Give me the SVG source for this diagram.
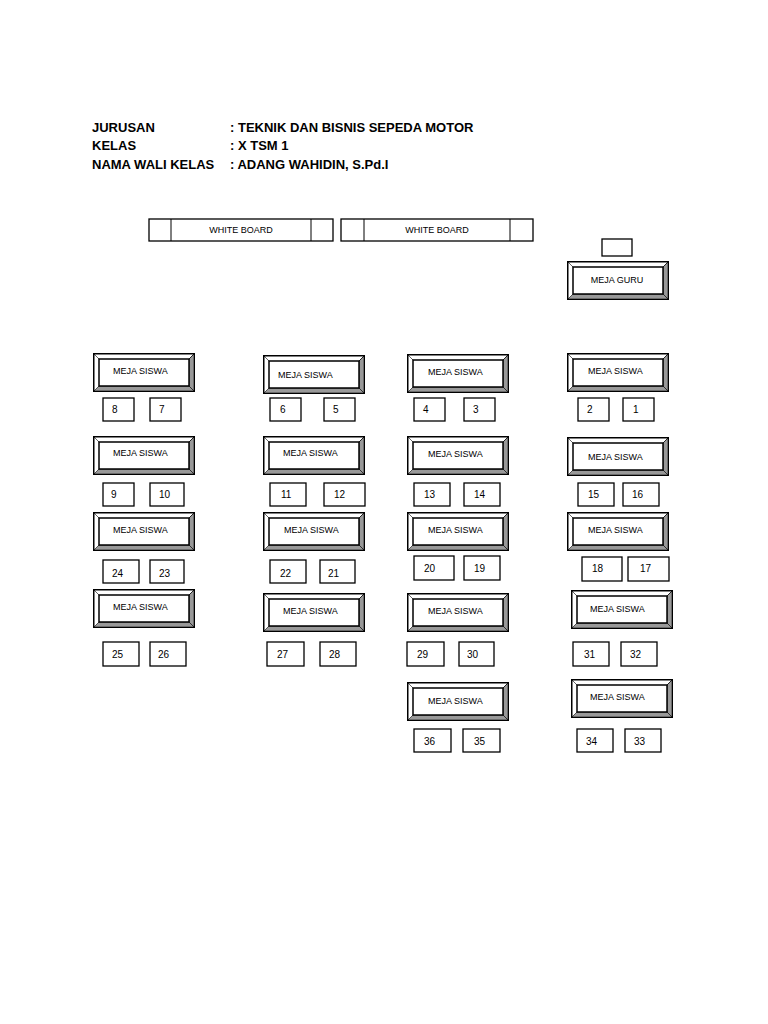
<svg xmlns="http://www.w3.org/2000/svg" xmlns:xlink="http://www.w3.org/1999/xlink" width="768" height="1024" viewBox="0 0 768 1024">
<style>
text{font-family:"Liberation Sans",Arial,sans-serif;fill:#000}
.h{font-size:13px;font-weight:bold}
.d{font-size:9px}
.s{font-size:10px}
.b{fill:#fff;stroke:#000;stroke-width:1.3}
</style>
<defs>
<symbol id="desk" width="102" height="39" viewBox="0 0 102 39">
<rect x="0.75" y="0.75" width="100.5" height="37.5" fill="#fff" stroke="#000" stroke-width="1.5"/>
<polygon points="101,1 96,6 96,33 101,38" fill="#999" stroke="#000" stroke-width="0.6"/>
<polygon points="1,38 6,33 96,33 101,38" fill="#999" stroke="#000" stroke-width="0.6"/>
<rect x="6" y="6" width="90" height="27" fill="#fff" stroke="#000" stroke-width="1.5"/>
<line x1="1" y1="1" x2="6" y2="6" stroke="#000" stroke-width="0.6"/>
<line x1="101" y1="1" x2="96" y2="6" stroke="#000" stroke-width="0.6"/>
</symbol>
</defs>
<rect width="768" height="1024" fill="#fff"/>
<g id="header" class="h">
<text x="92" y="132" class="h">JURUSAN</text><text x="230" y="132" class="h">: TEKNIK DAN BISNIS SEPEDA MOTOR</text>
<text x="92" y="150" class="h">KELAS</text><text x="230" y="150" class="h">: X TSM 1</text>
<text x="92" y="169" class="h">NAMA WALI KELAS</text><text x="230" y="169" class="h">: ADANG WAHIDIN, S.Pd.I</text>
</g>
<g id="wb1"><rect class="b" x="149" y="219" width="184" height="22"/><line x1="171" y1="219" x2="171" y2="241" stroke="#000"/><line x1="311" y1="219" x2="311" y2="241" stroke="#000"/><text class="d" x="241" y="233" text-anchor="middle">WHITE BOARD</text></g>
<g id="wb2"><rect class="b" x="341" y="219" width="192" height="22"/><line x1="364" y1="219" x2="364" y2="241" stroke="#000"/><line x1="510" y1="219" x2="510" y2="241" stroke="#000"/><text class="d" x="437" y="233" text-anchor="middle">WHITE BOARD</text></g>
<g id="guru"><rect class="b" x="602" y="239" width="30" height="17"/><use xlink:href="#desk" x="567" y="261"/><text class="d" x="617" y="283" text-anchor="middle">MEJA GURU</text></g>
<g id="desks" class="d">
<use xlink:href="#desk" x="93" y="353"/><text class="d" x="113" y="374">MEJA SISWA</text>
<use xlink:href="#desk" x="263" y="355"/><text class="d" x="278" y="378">MEJA SISWA</text>
<use xlink:href="#desk" x="407" y="354"/><text class="d" x="428" y="375">MEJA SISWA</text>
<use xlink:href="#desk" x="567" y="353"/><text class="d" x="588" y="374">MEJA SISWA</text>
<use xlink:href="#desk" x="93" y="436"/><text class="d" x="113" y="456">MEJA SISWA</text>
<use xlink:href="#desk" x="263" y="436"/><text class="d" x="283" y="456">MEJA SISWA</text>
<use xlink:href="#desk" x="407" y="436"/><text class="d" x="428" y="457">MEJA SISWA</text>
<use xlink:href="#desk" x="567" y="437"/><text class="d" x="588" y="460">MEJA SISWA</text>
<use xlink:href="#desk" x="93" y="512"/><text class="d" x="113" y="533">MEJA SISWA</text>
<use xlink:href="#desk" x="263" y="512"/><text class="d" x="284" y="533">MEJA SISWA</text>
<use xlink:href="#desk" x="407" y="512"/><text class="d" x="428" y="533">MEJA SISWA</text>
<use xlink:href="#desk" x="567" y="512"/><text class="d" x="588" y="533">MEJA SISWA</text>
<use xlink:href="#desk" x="93" y="589"/><text class="d" x="113" y="610">MEJA SISWA</text>
<use xlink:href="#desk" x="263" y="593"/><text class="d" x="283" y="614">MEJA SISWA</text>
<use xlink:href="#desk" x="407" y="593"/><text class="d" x="428" y="614">MEJA SISWA</text>
<use xlink:href="#desk" x="571" y="590"/><text class="d" x="590" y="612">MEJA SISWA</text>
<use xlink:href="#desk" x="407" y="682"/><text class="d" x="428" y="704">MEJA SISWA</text>
<use xlink:href="#desk" x="571" y="679"/><text class="d" x="590" y="700">MEJA SISWA</text>
</g>
<g id="seats" class="s">
<rect class="b" x="103" y="398" width="31" height="23"/><text class="s" x="112" y="413">8</text>
<rect class="b" x="150" y="398" width="31" height="23"/><text class="s" x="159" y="413">7</text>
<rect class="b" x="270" y="398" width="31" height="23"/><text class="s" x="280" y="413">6</text>
<rect class="b" x="324" y="398" width="31" height="23"/><text class="s" x="333" y="413">5</text>
<rect class="b" x="414" y="398" width="31" height="23"/><text class="s" x="423" y="413">4</text>
<rect class="b" x="464" y="398" width="31" height="23"/><text class="s" x="473" y="413">3</text>
<rect class="b" x="578" y="398" width="31" height="23"/><text class="s" x="587" y="413">2</text>
<rect class="b" x="623" y="398" width="31" height="23"/><text class="s" x="633" y="413">1</text>
<rect class="b" x="103" y="483" width="31" height="23"/><text class="s" x="111" y="498">9</text>
<rect class="b" x="150" y="483" width="34" height="23"/><text class="s" x="159" y="498">10</text>
<rect class="b" x="270" y="483" width="36" height="23"/><text class="s" x="281" y="498">11</text>
<rect class="b" x="324" y="483" width="41" height="23"/><text class="s" x="334" y="498">12</text>
<rect class="b" x="414" y="483" width="36" height="23"/><text class="s" x="424" y="498">13</text>
<rect class="b" x="464" y="483" width="36" height="23"/><text class="s" x="474" y="498">14</text>
<rect class="b" x="578" y="483" width="36" height="23"/><text class="s" x="588" y="498">15</text>
<rect class="b" x="623" y="483" width="36" height="23"/><text class="s" x="632" y="498">16</text>
<rect class="b" x="103" y="560" width="36" height="23"/><text class="s" x="112" y="577">24</text>
<rect class="b" x="150" y="560" width="34" height="23"/><text class="s" x="159" y="577">23</text>
<rect class="b" x="270" y="560" width="36" height="23"/><text class="s" x="280" y="577">22</text>
<rect class="b" x="320" y="560" width="35" height="23"/><text class="s" x="328" y="577">21</text>
<rect class="b" x="414" y="556" width="40" height="24"/><text class="s" x="424" y="572">20</text>
<rect class="b" x="464" y="556" width="36" height="24"/><text class="s" x="474" y="572">19</text>
<rect class="b" x="582" y="557" width="40" height="24"/><text class="s" x="592" y="572">18</text>
<rect class="b" x="628" y="557" width="41" height="24"/><text class="s" x="640" y="572">17</text>
<rect class="b" x="103" y="642" width="36" height="24"/><text class="s" x="112" y="658">25</text>
<rect class="b" x="150" y="642" width="36" height="24"/><text class="s" x="158" y="658">26</text>
<rect class="b" x="267" y="642" width="37" height="24"/><text class="s" x="277" y="658">27</text>
<rect class="b" x="320" y="642" width="36" height="24"/><text class="s" x="329" y="658">28</text>
<rect class="b" x="407" y="642" width="37" height="24"/><text class="s" x="417" y="658">29</text>
<rect class="b" x="459" y="642" width="35" height="24"/><text class="s" x="467" y="658">30</text>
<rect class="b" x="573" y="642" width="36" height="24"/><text class="s" x="584" y="658">31</text>
<rect class="b" x="621" y="642" width="36" height="24"/><text class="s" x="630" y="658">32</text>
<rect class="b" x="414" y="729" width="37" height="23"/><text class="s" x="424" y="745">36</text>
<rect class="b" x="463" y="729" width="37" height="23"/><text class="s" x="474" y="745">35</text>
<rect class="b" x="577" y="729" width="36" height="23"/><text class="s" x="586" y="745">34</text>
<rect class="b" x="625" y="729" width="36" height="23"/><text class="s" x="634" y="745">33</text>
</g>
</svg>
